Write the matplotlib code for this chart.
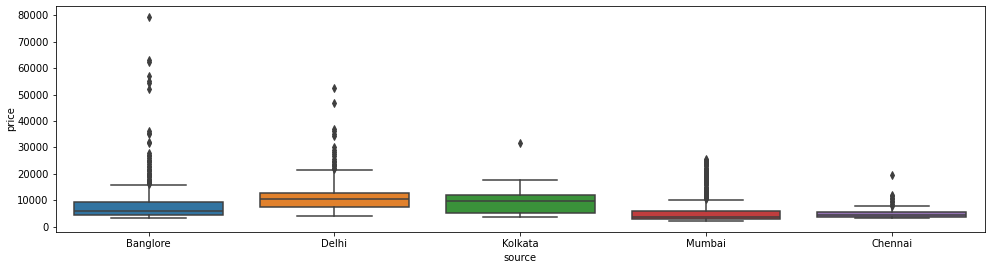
import matplotlib
matplotlib.use("Agg")
import matplotlib.pyplot as plt

# values (price by source)
sources = ["Banglore", "Delhi", "Kolkata", "Mumbai", "Chennai"]
q1 = [4400, 7300, 5000, 2900, 3500]
median = [6000, 10300, 9800, 3600, 4600]
q3 = [9300, 12900, 12000, 5800, 5500]
whisker_low = [3300, 3900, 3500, 2200, 3200]
whisker_high = [15900, 21500, 17700, 10100, 7800]

fliers_banglore = [16100, 16500, 17000, 17400, 17800, 18200, 18700, 19100, 19600,
                   20000, 20500, 21000, 21500, 22000, 22600, 23100, 23700, 24300,
                   24800, 25400, 26000, 26600, 27200, 27800, 31500, 32000, 35000,
                   35500, 36200, 52000, 54500, 55000, 57200, 62300, 63000, 79500]
fliers_delhi = [21800, 22300, 22800, 23300, 23800, 24300, 24800, 25800, 26600,
                27400, 28300, 29200, 30000, 34300, 35000, 36200, 37100, 46700, 52400]
fliers_kolkata = [31800]
fliers_mumbai = [10400, 10800, 11200, 11600, 12000, 12400, 12800, 13200, 13600,
                 14000, 14400, 14800, 15200, 15600, 16000, 16400, 16800, 17200,
                 17600, 18000, 18400, 18800, 19200, 19600, 20000, 20400, 20800,
                 21200, 21600, 22000, 22400, 22800, 23200, 23600, 24000, 24400,
                 24800, 25200, 25600]
fliers_chennai = [8000, 8600, 9200, 9800, 10400, 11000, 11600, 12100, 19700]

fliers = [fliers_banglore, fliers_delhi, fliers_kolkata, fliers_mumbai, fliers_chennai]
colors = ["#3274a1", "#e1812c", "#3a923a", "#c03d3e", "#9372b2"]
GRAY = "#3f3f3f"

stats = []
for i, name in enumerate(sources):
    stats.append({
        "label": name,
        "q1": q1[i],
        "med": median[i],
        "q3": q3[i],
        "whislo": whisker_low[i],
        "whishi": whisker_high[i],
        "fliers": fliers[i],
    })

fig = plt.figure(figsize=(1002 / 72, 267 / 72), dpi=72)
ax = fig.add_axes([55.7 / 1002, (267 - 232.3) / 267, 929 / 1002, 226.6 / 267])

bp = ax.bxp(
    stats,
    positions=range(len(sources)),
    widths=0.8,
    patch_artist=True,
    boxprops=dict(edgecolor=GRAY, linewidth=1.5),
    medianprops=dict(color=GRAY, linewidth=1.5),
    whiskerprops=dict(color=GRAY, linewidth=1.5),
    capprops=dict(color=GRAY, linewidth=1.5),
    flierprops=dict(marker="d", markerfacecolor=GRAY, markeredgecolor=GRAY,
                    markersize=5, linestyle="none"),
)
for patch, c in zip(bp["boxes"], colors):
    patch.set_facecolor(c)

ax.set_xlim(-0.5, len(sources) - 0.5)
ax.set_ylim(-2120, 83630)
ax.set_xticks(range(len(sources)))
ax.set_xticklabels(sources)
ax.set_yticks(range(0, 80001, 10000))
ax.set_xlabel("source")
ax.set_ylabel("price", labelpad=1)

fig.savefig("out.png", dpi=72)
